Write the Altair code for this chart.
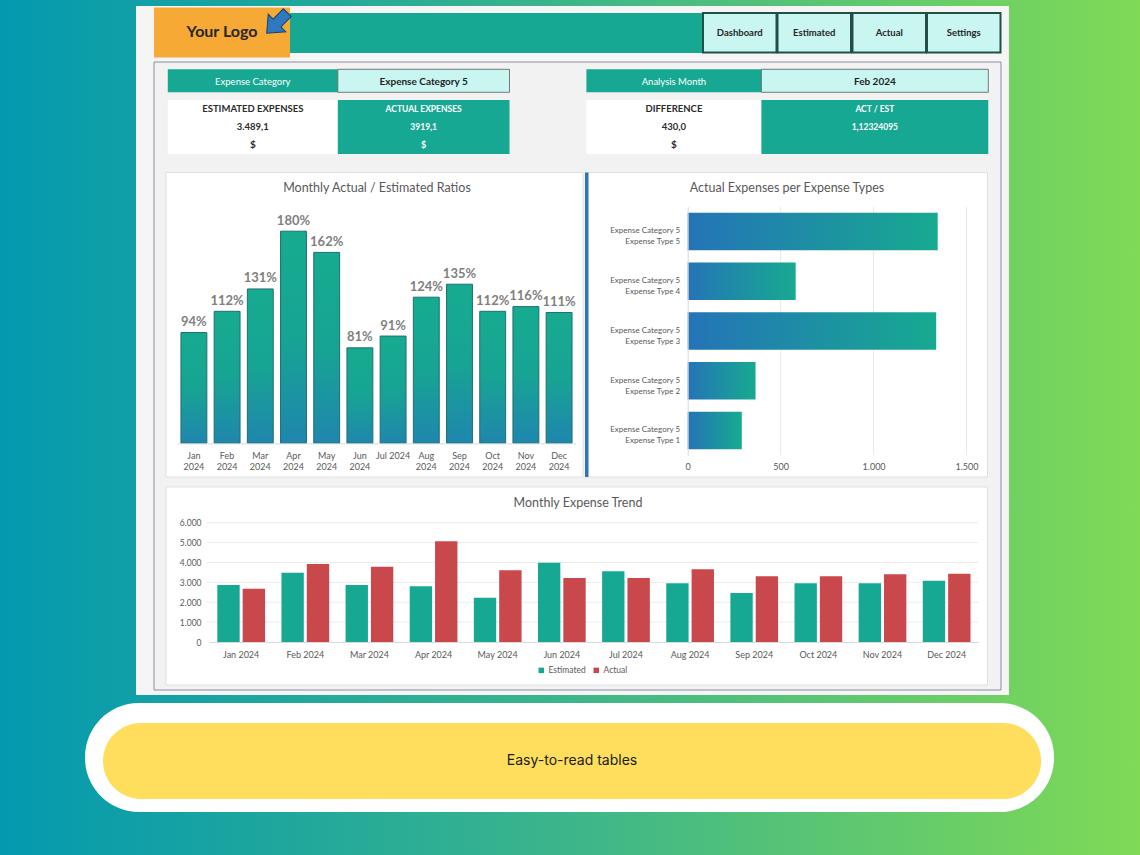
import altair as alt
import pandas as pd

# ---------------- data ----------------
months = ["Jan 2024", "Feb 2024", "Mar 2024", "Apr 2024", "May 2024", "Jun 2024",
          "Jul 2024", "Aug 2024", "Sep 2024", "Oct 2024", "Nov 2024", "Dec 2024"]
ratio_pct = [94, 112, 131, 180, 162, 81, 91, 124, 135, 112, 116, 111]
estimated = [2866, 3489, 2866, 2799, 2229, 3989, 3553, 2950, 2464, 2950, 2950, 3084]
actual = [2681, 3919, 3787, 5061, 3603, 3218, 3218, 3653, 3301, 3301, 3402, 3436]
series = ["Estimated", "Actual"]

category = "Expense Category 5"
expense_types = ["Expense Type 5", "Expense Type 4", "Expense Type 3", "Expense Type 2", "Expense Type 1"]
type_actual = [1345, 581, 1337, 365, 291]

type_ticks = [0, 500, 1000, 1500]
trend_ticks = [0, 1000, 2000, 3000, 4000, 5000, 6000]

nav_buttons = ["Dashboard", "Estimated", "Actual", "Settings"]
filter_labels = ["Expense Category", "Analysis Month"]
filter_values = ["Expense Category 5", "Feb 2024"]
kpi_titles = ["ESTIMATED EXPENSES", "ACTUAL EXPENSES", "DIFFERENCE", "ACT / EST"]
kpi_values = ["3.489,1", "3919,1", "430,0", "1,12324095"]
kpi_units = ["$", "$", "$", ""]
chart_titles = ["Monthly Actual / Estimated Ratios", "Actual Expenses per Expense Types", "Monthly Expense Trend"]
logo_text = "Your Logo"
caption = "Easy-to-read tables"

# ---------------- styles ----------------
TEAL = "#17a893"
CYAN = "#c9f6f0"
RED = "#c8484b"
GREY_TXT = "#595959"
FONT = "Lato"

ONE = pd.DataFrame({"k": [0]})


def box(x1, y1, x2, y2, fill, stroke=None, sw=1.0, r=0):
    kw = dict(fill=fill)
    if stroke:
        kw.update(stroke=stroke, strokeWidth=sw)
    if r:
        kw["cornerRadius"] = r
    return alt.Chart(ONE).mark_rect(**kw).encode(
        x=alt.value(x1), x2=alt.value(x2), y=alt.value(y1), y2=alt.value(y2))


def label(x, y, text, size=10.0, color="#262626", weight="normal", font=FONT, align="center"):
    return alt.Chart(ONE).mark_text(
        text=text, fontSize=size, color=color, fontWeight=weight, font=font,
        align=align, baseline="middle").encode(x=alt.value(x), y=alt.value(y))


layers = []

# background gradient
bg_grad = alt.Gradient(gradient="linear", x1=0, y1=0, x2=1, y2=0,
                       stops=[alt.GradientStop(color="#0399b0", offset=0),
                              alt.GradientStop(color="#3cb58a", offset=0.5),
                              alt.GradientStop(color="#80da56", offset=1)])
layers.append(box(0, 0, 1140, 855, bg_grad))

# screenshot panel
layers.append(box(136, 6, 1009, 695, "#f5f5f5"))

# header
layers.append(box(290, 13, 1000, 53, TEAL))
layers.append(box(154, 7.5, 290, 57.5, "#f6a935"))
layers.append(label(222, 32, logo_text, size=16, weight="bold"))
arrow = "M -1 0 L 0 -0.85 L 0 -0.38 L 1 -0.38 L 1 0.38 L 0 0.38 L 0 0.85 Z"
layers.append(alt.Chart(ONE).mark_point(shape=arrow, size=850, angle=315, filled=True,
                                        fill="#2e78c0", stroke="#1d3f6b", strokeWidth=1, opacity=1)
              .encode(x=alt.value(277), y=alt.value(23)))
btn_x = [703, 777.5, 852.5, 927]
for i, name in enumerate(nav_buttons):
    x0 = btn_x[i]
    layers.append(box(x0, 13, x0 + 73.5, 52.5, CYAN, stroke="#234f48", sw=2))
    layers.append(label(x0 + 36.75, 33, name, size=9.5, weight="bold"))

# frame
layers.append(box(154, 62, 1001, 690, "#f2f2f2", stroke="#8c8ca3", sw=1))

# filters and KPIs
col_l = [(167.8, 337.8), (586.4, 761.4)]
col_r = [(337.8, 509.5), (761.4, 988.3)]
for i in range(2):
    (a1, a2), (b1, b2) = col_l[i], col_r[i]
    layers.append(box(a1, 69.3, a2, 92.3, TEAL))
    layers.append(label((a1 + a2) / 2, 81.5, filter_labels[i], size=9.5, color="white"))
    layers.append(box(b1, 69.3, b2, 92.3, CYAN, stroke="#5a5a5a", sw=0.8))
    layers.append(label((b1 + b2) / 2, 81.5, filter_values[i], size=10, weight="bold", color="#1e1e1e"))
    # white KPI
    layers.append(box(a1, 100, a2, 154, "white"))
    k = 2 * i
    layers.append(label((a1 + a2) / 2, 109.3, kpi_titles[k], size=9.5, weight="bold", color="#2b2b2b"))
    layers.append(label((a1 + a2) / 2, 127, kpi_values[k], size=9.5, weight="bold", color="#2b2b2b"))
    layers.append(label((a1 + a2) / 2, 145, kpi_units[k], size=10, weight="bold", color="#2b2b2b"))
    # teal KPI
    layers.append(box(b1, 100, b2, 154, TEAL))
    k = 2 * i + 1
    layers.append(label((b1 + b2) / 2, 109.3, kpi_titles[k], size=8.5, weight="bold", color="white"))
    layers.append(label((b1 + b2) / 2, 127, kpi_values[k], size=8.5, weight="bold", color="white"))
    if kpi_units[k]:
        layers.append(label((b1 + b2) / 2, 145, kpi_units[k], size=9, weight="bold", color="white"))

# chart panels
layers.append(box(166, 172.5, 583, 477, "white", stroke="#e0e0e0", sw=1))
layers.append(box(586, 172.5, 987.5, 477, "white", stroke="#e0e0e0", sw=1))
layers.append(box(585, 172.5, 588.5, 477, "#2e75b6"))
layers.append(box(166, 487, 987.5, 685, "white", stroke="#e0e0e0", sw=1))
layers.append(label(377, 188, chart_titles[0], size=12.5, color=GREY_TXT))
layers.append(label(787, 188, chart_titles[1], size=12.5, color=GREY_TXT))
layers.append(label(578, 503, chart_titles[2], size=12.5, color=GREY_TXT))

# ---------------- chart 1: ratios ----------------
ratio_df = pd.DataFrame({"month": months,
                         "ratio": [p / 100 for p in ratio_pct],
                         "lab": [f"{p}%" for p in ratio_pct]})
v_grad = alt.Gradient(gradient="linear", x1=0, y1=0, x2=0, y2=1,
                      stops=[alt.GradientStop(color="#16ab90", offset=0),
                             alt.GradientStop(color="#17a493", offset=0.5),
                             alt.GradientStop(color="#1f86ae", offset=1)])
rx = alt.X("month:N", sort=months, title=None,
           scale=alt.Scale(range=[177.3, 575.7], paddingInner=0.22, paddingOuter=0.11),
           axis=alt.Axis(orient="bottom", offset=443.3 - 855, ticks=False, domainColor="#d9d9d9",
                         labelAngle=0, labelFontSize=9, labelColor=GREY_TXT, labelFont=FONT,
                         labelPadding=8.5, labelLineHeight=11, zindex=1,
                         labelExpr="datum.label == 'Jul 2024' ? datum.label : split(datum.label, ' ')"))
ry = alt.Y("ratio:Q", title=None, scale=alt.Scale(domain=[0, 1.8], range=[443.3, 231.2], nice=False), axis=None)
ratio_bars = alt.Chart(ratio_df).mark_bar(fill=v_grad, stroke="#226e70", strokeWidth=1).encode(x=rx, y=ry)
ratio_text = alt.Chart(ratio_df).mark_text(fontSize=13, fontWeight="bold", color="#7f7f7f", font=FONT,
                                           baseline="bottom", dy=-3.5).encode(x=rx, y=ry, text="lab:N")
layers.append(alt.layer(ratio_bars, ratio_text))

# ---------------- chart 2: expense types ----------------
type_df = pd.DataFrame({"etype": [category + "|" + t for t in expense_types], "value": type_actual})
grid2_df = pd.DataFrame({"value": type_ticks[1:]})
h_grad = alt.Gradient(gradient="linear", x1=0, y1=0, x2=1, y2=0,
                      stops=[alt.GradientStop(color="#2474b7", offset=0),
                             alt.GradientStop(color="#17aa90", offset=1)])
hx = alt.X("value:Q", title=None, scale=alt.Scale(domain=[0, 1500], range=[687.7, 966.5], nice=False),
           axis=alt.Axis(orient="bottom", offset=455.3 - 855, values=type_ticks, ticks=False, domain=False,
                         grid=False, labelFontSize=9, labelColor=GREY_TXT, labelFont=FONT, labelPadding=7,
                         labelFlush=False, zindex=1,
                         labelExpr="replace(format(datum.value, ','), ',', '.')"))
hy = alt.Y("etype:N", title=None, sort=[category + "|" + t for t in expense_types],
           scale=alt.Scale(range=[206.6, 455.3], paddingInner=0.246, paddingOuter=0.123),
           axis=alt.Axis(orient="left", offset=-687.7, ticks=False, domainColor="#d9d9d9",
                         labelFontSize=8, labelColor=GREY_TXT, labelFont=FONT, labelPadding=8,
                         labelLineHeight=11, zindex=1, labelExpr="split(datum.label, '|')"))
grid2 = alt.Chart(grid2_df).mark_rule(color="#e8e8e8", strokeWidth=1).encode(
    x=hx, y=alt.value(206.6), y2=alt.value(455.3))
type_bars = alt.Chart(type_df).mark_bar(fill=h_grad).encode(x=hx, y=hy)
layers.append(alt.layer(grid2, type_bars))

# ---------------- chart 3: trend ----------------
trend_df = pd.DataFrame({"month": months * 2,
                         "series": [series[0]] * 12 + [series[1]] * 12,
                         "value": estimated + actual})
grid3_df = pd.DataFrame({"value": trend_ticks[1:]})
tx = alt.X("month:N", sort=months, title=None,
           scale=alt.Scale(range=[209.1, 978.7], paddingInner=0.256, paddingOuter=0.128),
           axis=alt.Axis(orient="bottom", offset=642 - 855, ticks=False, domainColor="#d9d9d9",
                         labelAngle=0, labelFontSize=9, labelColor=GREY_TXT, labelFont=FONT, labelPadding=8,
                         zindex=1))
ty = alt.Y("value:Q", title=None, scale=alt.Scale(domain=[0, 6000], range=[642, 522.7], nice=False),
           axis=alt.Axis(orient="left", offset=-207, values=trend_ticks, ticks=False, domain=False, grid=False,
                         labelFontSize=8.5, labelColor=GREY_TXT, labelFont=FONT, labelPadding=6, zindex=1,
                         labelFlush=False,
                         labelExpr="replace(format(datum.value, ','), ',', '.')"))
grid3 = alt.Chart(grid3_df).mark_rule(color="#ececec", strokeWidth=1).encode(
    y=ty, x=alt.value(207), x2=alt.value(978))
trend_bars = alt.Chart(trend_df).mark_bar().encode(
    x=tx, y=ty,
    xOffset=alt.XOffset("series:N", sort=series, scale=alt.Scale(paddingInner=0.118)),
    color=alt.Color("series:N", sort=series,
                    scale=alt.Scale(domain=series, range=[TEAL, RED]),
                    legend=alt.Legend(orient="none", legendX=537, legendY=666, direction="horizontal",
                                      title=None, symbolType="square", symbolSize=30, symbolStrokeWidth=0,
                                      labelFontSize=8.5, labelColor=GREY_TXT, labelFont=FONT,
                                      columnPadding=6, padding=0, labelOffset=3, zindex=1)))
layers.append(alt.layer(grid3, trend_bars))

# ---------------- bottom pill ----------------
layers.append(box(85, 703, 1054, 812, "white", r=54))
layers.append(box(103, 723, 1041, 799, "#fede5c", r=38))
layers.append(label(572, 761, caption, size=14, color="#1a1a1a", font="Inter"))

chart = alt.layer(*layers).resolve_scale(
    x="independent", y="independent", color="independent"
).properties(
    width=1140, height=855, padding=0,
    autosize=alt.AutoSizeParams(type="none"),
    background="white",
).configure_view(stroke=None).configure(font=FONT)

chart.save("out.html", embed_options={"renderer": "svg", "actions": False})
